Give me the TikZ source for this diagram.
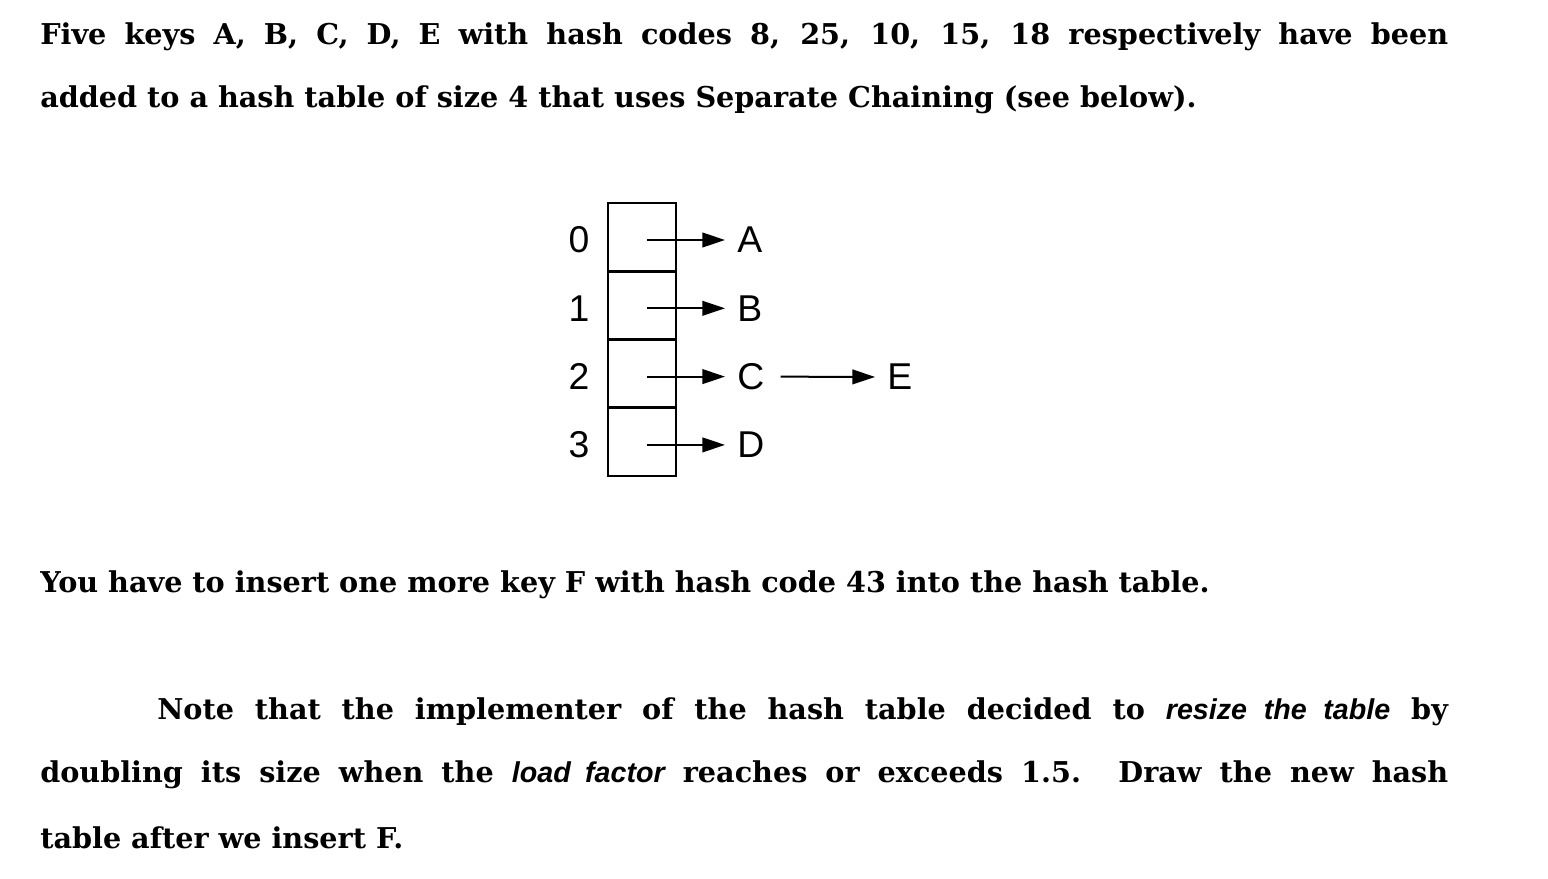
\documentclass[tikz,border=0pt]{standalone}
\usepackage{fontspec}
\setmainfont{DejaVu Serif}
\newfontfamily\diag{Liberation Sans}
\usetikzlibrary{arrows.meta}
\begin{document}
\begin{tikzpicture}[x=0.75pt,y=-0.75pt,
  txt/.style={anchor=west,inner sep=0pt,font=\bfseries\fontsize{21.5}{25}\selectfont},
  lbl/.style={font=\diag\fontsize{28}{30}\selectfont,inner sep=0pt},
  cell/.style={draw,line width=2pt,minimum width=51pt,minimum height=51pt,inner sep=0pt},
  ptr/.style={line width=1.5pt,shorten >=9pt,-{Triangle[length=17pt,width=11pt]}}]
\useasboundingbox (0,0) rectangle (1548,878);
\node[txt] (l1) at (40,37) {\makebox[1056pt][s]{Five keys A, B, C, D, E with hash codes 8, 25, 10, 15, 18 respectively have been}};
\node[txt] (l2) at (40,100) {added to a hash table of size 4 that uses Separate Chaining (see below).};
\node[txt] (l3) at (40,585) {You have to insert one more key F with hash code 43 into the hash table.};
\node[txt] (l4) at (157,712) {\makebox[968pt][s]{Note that the implementer of the hash table decided to {\diag\itshape resize the table} by}};
\node[txt] (l5) at (40,775) {\makebox[1056pt][s]{doubling its size when the {\diag\itshape load factor} reaches or exceeds 1.5. Draw the new hash}};
\node[txt] (l6) at (40,838) {table after we insert F.};
\foreach \i/\k in {0/A,1/B,2/C,3/D}{
  \node[cell] (c\i) at (642,{237+68.3*\i}) {};
  \node[lbl] (n\i) at (579,{240+68.3*\i}) {\i};
  \node[lbl,anchor=west] (k\k) at (737,{240+68.3*\i}) {\k};
  \coordinate (s\i) at (647,{240+68.3*\i});
  \draw[ptr] (s\i) -- (k\k.west);
}
\node[lbl,anchor=west] (kE) at (887,377) {E};
\draw[ptr,shorten <=12pt] (kC.east) -- (kE.west);
\end{tikzpicture}
\end{document}
